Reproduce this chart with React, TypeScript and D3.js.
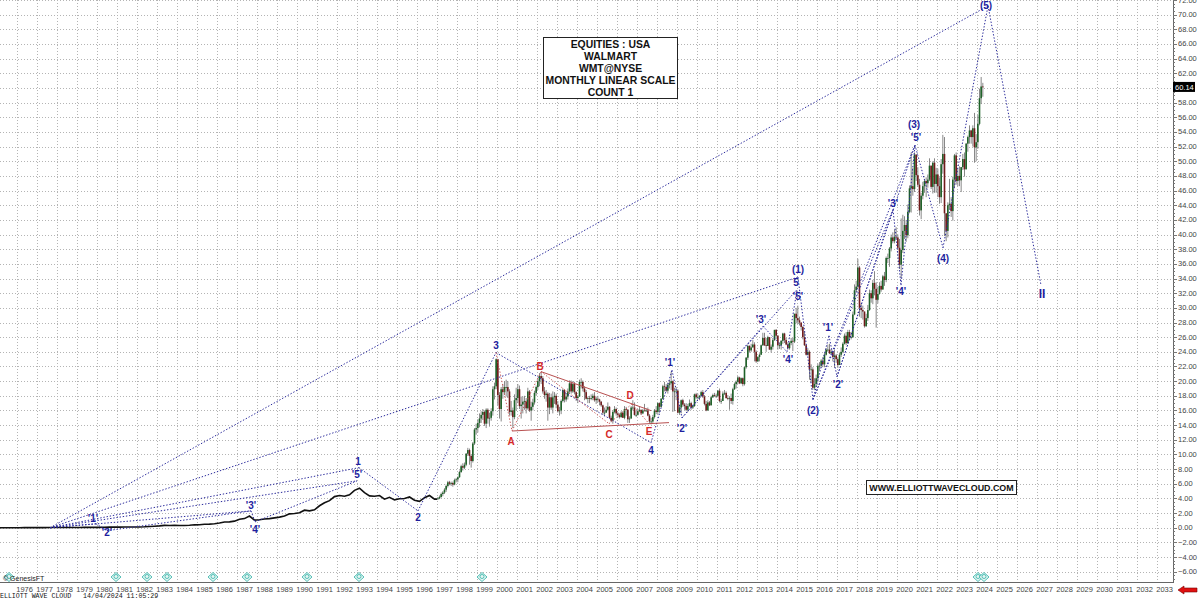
import React, { useEffect, useRef } from "react";
import * as d3 from "d3";

// monthly candles from Jan 1997 (price units after the 2024 split)
const candleStart = 1997;
const firstOpen = 3.9;
// prettier-ignore
const closes = [
  4.0, 4.2, 4.6, 4.8, 5.2, 5.7, 6.2, 6.0, 6.1, 5.9, 6.5, 6.6,
  6.9, 7.6, 8.4, 8.2, 8.6, 10.1, 10.6, 9.8, 9.1, 11.5, 13.4, 13.6,
  14.3, 14.9, 15.4, 15.8, 14.2, 16.1, 14.9, 15.0, 15.9, 18.9, 19.3, 23.0,
  18.1, 16.2, 18.9, 18.5, 19.2, 19.2, 18.6, 15.8, 16.0, 15.1, 17.4, 17.7,
  18.9, 16.6, 16.8, 17.2, 17.3, 16.3, 18.6, 16.0, 16.5, 17.1, 18.4, 19.2,
  20.0, 20.7, 20.4, 18.6, 18.1, 18.3, 16.4, 17.8, 16.4, 17.8, 18.0, 16.8,
  15.9, 16.0, 17.3, 18.8, 17.5, 17.9, 18.6, 19.7, 18.6, 19.6, 18.5, 17.7,
  17.9, 19.9, 19.9, 19.0, 18.5, 17.6, 17.7, 17.6, 17.7, 18.0, 17.4, 17.6,
  17.5, 17.2, 16.7, 15.7, 15.7, 16.1, 16.5, 15.0, 14.6, 15.8, 16.2, 15.6,
  15.4, 15.1, 15.7, 15.0, 16.2, 16.1, 14.8, 14.9, 16.4, 16.4, 15.4, 15.4,
  15.9, 16.1, 15.6, 16.0, 15.9, 16.0, 15.3, 14.5, 14.5, 15.1, 16.0, 15.8,
  17.0, 16.5, 17.6, 19.3, 19.2, 18.7, 19.5, 19.7, 20.0, 18.6, 18.6, 18.7,
  15.7, 16.4, 17.4, 16.8, 16.6, 16.1, 16.6, 17.0, 16.4, 16.6, 18.2, 17.8,
  17.8, 18.0, 18.5, 17.9, 16.9, 16.0, 17.1, 16.7, 17.8, 18.1, 18.0, 18.0,
  18.7, 17.3, 17.3, 18.3, 18.4, 17.7, 17.6, 17.7, 17.3, 18.9, 19.6, 19.9,
  20.5, 19.7, 20.4, 19.6, 21.9, 23.2, 24.8, 24.2, 24.6, 25.0, 24.0, 22.7,
  23.3, 23.6, 24.9, 25.9, 24.9, 24.8, 26.0, 24.3, 24.7, 25.6, 27.0, 26.2,
  24.9, 24.9, 25.5, 26.5, 25.6, 25.0, 24.5, 25.2, 25.5, 25.4, 29.2, 28.6,
  28.3, 28.0, 27.4, 26.0, 24.9, 23.6, 24.0, 21.6, 21.6, 19.1, 19.6, 20.4,
  22.1, 22.1, 22.8, 22.3, 23.6, 24.3, 24.3, 23.8, 24.0, 23.3, 23.5, 23.0,
  22.2, 23.6, 24.0, 25.1, 26.2, 25.2, 26.7, 26.0, 26.0, 29.1, 32.4, 32.9,
  35.5, 30.0, 29.7, 29.5, 27.5, 28.6, 29.7, 32.0, 31.3, 33.4, 32.6, 31.1,
  31.9, 33.0, 32.5, 34.3, 33.8, 36.8, 36.8, 38.1, 39.6, 39.1, 39.7, 39.6,
  38.2, 35.9, 37.9, 40.5, 41.3, 39.9, 43.1, 46.3, 46.6, 46.2, 50.9, 48.1,
  46.8, 43.3, 45.3, 46.6, 47.3, 47.0, 47.5, 49.4, 46.5, 49.8, 46.9, 48.2,
  46.6, 45.1, 49.6, 51.0, 42.9, 40.5, 44.0, 44.2, 43.2, 47.5, 50.8, 47.3,
  48.0, 47.4, 49.2, 50.3, 48.9, 52.4, 53.3, 54.2, 53.3, 54.5, 51.9, 52.6,
  55.1, 58.6, 60.2, 60.14,
];
// prettier-ignore
const highs = [
  4.2, 4.4, 4.8, 5.0, 5.4, 5.9, 6.4, 6.4, 6.3, 6.3, 6.7, 6.8,
  7.0, 7.8, 8.6, 8.8, 8.9, 10.2, 10.9, 10.8, 10.0, 11.7, 13.6, 14.2,
  14.8, 15.6, 15.9, 16.2, 16.0, 16.3, 16.3, 15.7, 16.3, 19.3, 19.8, 23.1,
  22.4, 18.5, 19.2, 19.6, 20.0, 20.2, 20.0, 18.9, 17.3, 16.4, 18.2, 19.1,
  19.6, 19.4, 17.9, 17.9, 18.0, 17.7, 19.1, 18.8, 17.2, 17.6, 18.7, 19.4,
  20.3, 21.1, 21.3, 20.7, 19.2, 18.8, 18.5, 18.4, 18.3, 18.6, 18.5, 18.3,
  17.3, 16.5, 17.5, 19.0, 18.8, 18.4, 19.0, 20.1, 20.1, 20.0, 19.9, 18.6,
  18.1, 20.2, 20.4, 20.1, 19.3, 18.8, 17.9, 18.0, 18.2, 18.3, 18.5, 17.9,
  18.0, 17.6, 17.3, 16.8, 16.4, 16.6, 17.1, 16.6, 15.3, 16.0, 16.6, 16.4,
  15.8, 15.6, 15.9, 15.9, 16.6, 16.5, 16.2, 15.2, 16.6, 17.4, 17.1, 16.0,
  16.2, 16.6, 16.1, 16.2, 16.9, 16.3, 16.4, 15.5, 15.0, 15.4, 16.2, 16.6,
  17.1, 17.1, 17.7, 19.5, 19.9, 19.6, 19.8, 20.2, 21.3, 20.1, 19.1, 19.2,
  18.9, 16.7, 17.5, 17.6, 17.0, 17.0, 16.9, 17.5, 17.2, 16.8, 18.3, 18.4,
  18.3, 18.1, 18.7, 18.8, 18.1, 17.3, 17.4, 17.3, 18.0, 18.3, 18.4, 18.3,
  18.8, 19.0, 17.6, 18.6, 18.8, 18.6, 18.1, 17.9, 18.3, 19.1, 19.8, 20.1,
  20.7, 20.6, 20.5, 20.5, 22.0, 23.3, 25.0, 24.9, 25.1, 25.6, 25.3, 24.2,
  23.4, 23.8, 25.0, 26.6, 26.6, 25.9, 26.2, 26.0, 25.0, 25.9, 27.0, 27.1,
  26.3, 25.3, 25.6, 26.6, 26.6, 25.9, 25.3, 25.4, 25.9, 25.9, 29.2, 30.0,
  30.3, 28.8, 28.0, 27.5, 26.8, 25.0, 24.5, 24.2, 22.3, 21.9, 20.4, 20.9,
  22.4, 22.6, 23.0, 23.3, 23.9, 24.5, 25.0, 25.1, 24.4, 24.1, 24.3, 23.7,
  23.2, 23.9, 24.6, 25.3, 26.5, 26.7, 27.0, 27.0, 26.7, 29.5, 33.2, 33.7,
  36.7, 35.7, 30.6, 30.3, 29.5, 29.2, 30.4, 32.5, 32.4, 33.8, 35.0, 33.5,
  32.9, 33.5, 33.7, 34.5, 34.9, 37.0, 37.4, 38.3, 40.0, 40.3, 40.7, 41.0,
  40.0, 39.4, 42.2, 42.7, 42.5, 42.0, 44.1, 46.7, 51.2, 49.1, 51.2, 51.0,
  49.2, 47.6, 45.7, 47.2, 47.6, 47.8, 48.2, 50.4, 49.3, 50.0, 50.4, 49.1,
  49.0, 47.8, 50.3, 53.6, 53.3, 42.9, 44.4, 47.6, 45.1, 47.9, 51.0, 51.2,
  49.0, 49.3, 49.2, 51.0, 51.2, 52.5, 53.5, 54.9, 54.3, 54.9, 56.6, 53.7,
  56.3, 59.9, 61.5, 60.7,
];
// prettier-ignore
const lows = [
  3.8, 3.9, 4.1, 4.3, 4.6, 4.9, 5.5, 5.8, 5.7, 5.6, 5.8, 6.2,
  6.2, 6.8, 7.5, 7.8, 8.0, 8.4, 9.8, 8.6, 8.2, 8.9, 11.3, 12.7,
  13.0, 13.7, 14.3, 14.7, 13.9, 13.6, 14.2, 13.8, 14.6, 15.3, 17.5, 18.9,
  16.7, 14.9, 14.5, 17.6, 18.1, 17.9, 17.7, 15.3, 15.3, 13.6, 14.8, 16.0,
  17.0, 16.2, 14.9, 15.6, 16.1, 15.6, 16.1, 15.8, 14.6, 16.0, 16.8, 18.0,
  18.8, 19.3, 19.6, 18.3, 17.6, 17.2, 14.6, 15.5, 16.1, 15.6, 16.9, 16.3,
  15.7, 15.3, 15.5, 17.1, 17.1, 17.2, 17.5, 18.4, 18.3, 18.4, 18.2, 17.3,
  17.0, 17.9, 19.0, 18.6, 17.4, 17.5, 17.0, 17.0, 17.4, 17.4, 17.2, 16.9,
  17.1, 16.7, 16.5, 15.4, 15.2, 15.7, 15.9, 14.9, 14.4, 14.2, 15.6, 15.3,
  15.0, 14.9, 15.0, 15.0, 14.8, 15.3, 14.3, 14.3, 14.9, 16.0, 15.3, 15.1,
  15.3, 15.8, 15.4, 15.5, 15.9, 15.8, 15.2, 14.3, 14.1, 14.3, 14.9, 15.5,
  15.5, 15.7, 16.4, 17.5, 18.6, 18.5, 18.3, 19.0, 18.8, 15.8, 15.9, 17.4,
  15.6, 15.4, 15.6, 16.5, 16.1, 15.9, 15.8, 16.5, 16.1, 16.2, 16.5, 17.6,
  17.6, 17.4, 17.9, 17.7, 16.7, 15.9, 16.0, 16.6, 16.7, 17.7, 17.9, 17.7,
  17.8, 17.1, 16.9, 17.3, 18.1, 17.6, 17.4, 16.1, 16.9, 16.8, 18.8, 19.0,
  19.6, 19.6, 19.6, 19.3, 19.4, 21.7, 22.9, 23.9, 24.0, 24.6, 22.7, 22.5,
  22.6, 22.7, 23.6, 24.8, 24.8, 24.0, 24.9, 24.3, 23.9, 24.3, 25.5, 25.7,
  24.3, 24.4, 24.3, 25.1, 25.2, 24.9, 24.3, 24.3, 24.9, 24.1, 25.2, 27.9,
  27.8, 27.6, 26.9, 25.7, 24.8, 23.5, 23.5, 20.2, 19.8, 18.8, 18.8, 19.2,
  19.9, 21.4, 21.8, 21.9, 21.9, 23.5, 24.0, 23.7, 23.7, 22.7, 21.8, 22.5,
  21.8, 22.2, 23.3, 23.8, 25.0, 24.9, 25.1, 25.6, 25.7, 25.9, 29.0, 32.1,
  32.7, 28.8, 28.6, 28.4, 27.3, 27.4, 28.2, 29.6, 30.7, 30.5, 31.7, 27.3,
  30.6, 31.8, 32.2, 32.5, 33.0, 33.5, 36.1, 35.6, 37.7, 38.8, 38.8, 39.3,
  37.9, 35.3, 34.0, 37.5, 39.4, 39.0, 39.5, 42.9, 43.0, 45.3, 45.8, 47.3,
  46.5, 42.6, 42.1, 44.8, 45.7, 45.1, 46.4, 47.3, 46.2, 45.6, 45.7, 45.7,
  45.1, 44.2, 44.3, 48.3, 39.8, 39.1, 39.6, 43.4, 42.4, 41.9, 46.3, 46.8,
  46.6, 46.6, 45.8, 48.8, 47.9, 48.9, 51.3, 52.4, 52.4, 52.0, 49.8, 50.0,
  51.7, 54.9, 57.8, 58.8,
];

// quarterly closes 1975 - 1996 (before the monthly candles)
const earlyStart = 1975;
// prettier-ignore
const earlyCloses = [
  0.01, 0.01, 0.01, 0.01, 0.01, 0.02, 0.02, 0.02, 0.02, 0.02, 0.03, 0.03,
  0.03, 0.03, 0.04, 0.04, 0.04, 0.05, 0.05, 0.05, 0.05, 0.06, 0.08, 0.08,
  0.09, 0.1, 0.1, 0.1, 0.11, 0.13, 0.17, 0.21, 0.26, 0.33, 0.3, 0.33,
  0.3, 0.31, 0.34, 0.4, 0.42, 0.47, 0.5, 0.55, 0.65, 0.78, 0.8, 0.9,
  1.15, 1.25, 1.6, 1.05, 1.1, 1.2, 1.25, 1.35, 1.45, 1.6, 1.9, 1.95,
  2.05, 2.4, 2.3, 2.45, 3.0, 3.4, 3.7, 4.25, 4.4, 4.3, 4.5, 5.1,
  5.4, 4.8, 4.35, 4.3, 4.4, 3.9, 4.15, 3.8, 3.95, 4.0, 4.2, 3.75,
  3.6, 4.1, 4.4, 3.9,
];

const lastPrice = 60.14;
const years = d3.range(1976, 2034);
const priceTicks = d3.range(-6, 73, 2);

// wave pivots: [year, price]
const pivots: Record<string, [number, number]> = {
  O: [1977.65, 0.0],
  s1: [1979.95, 0.55], s2: [1980.5, -0.4], s3: [1987.7, 2.3], s4: [1987.9, 0.8], s5: [1993.0, 6.4],
  w1: [1993.1, 8.2], w2: [1996.05, 2.3], w3: [1999.95, 23.9], w4: [2007.7, 11.6],
  A: [2000.75, 13.2], B: [2002.2, 21.3], C: [2005.6, 14.2], D: [2006.75, 16.9], E: [2007.6, 14.2],
  b1: [2008.75, 21.5], b2: [2009.25, 15.0], b3: [2013.3, 27.5], b4: [2014.5, 24.0], b5: [2015.0, 32.5],
  P1: [2015.05, 34.2], P2: [2015.8, 17.5],
  c1: [2016.6, 26.2], c2: [2017.0, 20.6], c3: [2019.8, 43.4], c4: [2020.2, 33.1], c5: [2020.9, 52.2],
  P4: [2022.3, 38.2], P5: [2024.55, 71.2], II: [2027.2, 33.1],
};

const blueLegs: [string, string][] = [
  ["O", "s1"], ["s1", "s2"], ["s2", "s3"], ["s3", "s4"], ["s4", "s5"],
  ["O", "s3"], ["O", "s5"], ["O", "w1"], ["O", "P1"], ["O", "P5"],
  ["w1", "w2"], ["w2", "w3"], ["w3", "w4"],
  ["w4", "b1"], ["b1", "b2"], ["b2", "b3"], ["b3", "b4"], ["b4", "b5"], ["b2", "b5"],
  ["P1", "P2"], ["P2", "c1"], ["c1", "c2"], ["c2", "c3"], ["c3", "c4"], ["c4", "c5"],
  ["P2", "c3"], ["P2", "c5"], ["c2", "c5"],
  ["c5", "P4"], ["P4", "P5"], ["P5", "II"],
];
const redLegs: [string, string][] = [["w3", "A"], ["A", "B"], ["B", "C"], ["C", "D"], ["D", "E"]];
const redTrends: [string, string, number][] = [["B", "D", 2007.7], ["A", "E", 2008.6]];

// [text, year, price, colour]
const waveLabels: [string, number, number, string][] = [
  ["'1'", 1979.8, 1.2, "blue"], ["'2'", 1980.5, -0.7, "blue"], ["'3'", 1987.7, 3.1, "blue"],
  ["'4'", 1987.9, -0.3, "blue"], ["'5'", 1993.0, 7.2, "blue"], ["1", 1993.05, 9.0, "blue"],
  ["2", 1996.05, 1.4, "blue"], ["3", 1999.95, 24.8, "blue"], ["4", 2007.7, 10.6, "blue"],
  ["A", 2000.7, 11.7, "red"], ["B", 2002.15, 22.0, "red"], ["C", 2005.6, 12.7, "red"],
  ["D", 2006.65, 18.0, "red"], ["E", 2007.6, 13.1, "red"],
  ["'1'", 2008.65, 22.5, "blue"], ["'2'", 2009.25, 13.6, "blue"], ["'3'", 2013.2, 28.4, "blue"],
  ["'4'", 2014.55, 22.9, "blue"], ["'5'", 2015.05, 31.5, "blue"], ["5", 2014.95, 33.4, "blue"],
  ["(1)", 2015.05, 35.2, "blue"], ["(2)", 2015.8, 16.0, "blue"],
  ["'1'", 2016.55, 27.3, "blue"], ["'2'", 2017.05, 19.5, "blue"], ["'3'", 2019.8, 44.2, "blue"],
  ["'4'", 2020.2, 32.2, "blue"], ["'5'", 2020.95, 53.2, "blue"], ["(3)", 2020.85, 55.0, "blue"],
  ["(4)", 2022.3, 36.8, "blue"], ["(5)", 2024.45, 71.3, "blue"], ["II", 2027.25, 31.9, "blue"],
];

const markerYears = [1975.6, 1980.95, 1982.5, 1983.5, 1985.8, 1987.5, 1990.5, 1993.1, 1999.25, 2024.05, 2024.35];

const titleLines = ["EQUITIES : USA", "WALMART", "WMT@NYSE", "MONTHLY LINEAR SCALE", "COUNT 1"];

const App = () => {
  const svgRef = useRef<SVGSVGElement>(null);

  useEffect(() => {
    const W = 1200;
    const H = 600;
    const right = 1173;
    const bottom = 582;
    const x = d3.scaleLinear().domain([1975.15, 2033.8]).range([0, right]);
    const y = d3.scaleLinear().domain([-7.4, 72]).range([bottom, 0]);
    const svg = d3.select(svgRef.current);
    svg.selectAll("*").remove();
    svg.append("rect").attr("width", W).attr("height", H).attr("fill", "#fff");

    // grid
    const grid = svg.append("g").attr("stroke", "#b4b4b4").attr("stroke-dasharray", "1,2").attr("stroke-width", 1);
    years.forEach((yr) => {
      const px = Math.round(x(yr)) + 0.5;
      grid.append("line").attr("x1", px).attr("x2", px).attr("y1", 0).attr("y2", bottom);
    });
    priceTicks.forEach((p) => {
      const py = Math.round(y(p)) + 0.5;
      grid.append("line").attr("x1", 0).attr("x2", right).attr("y1", py).attr("y2", py);
    });

    // axes
    svg.append("line").attr("x1", right + 0.5).attr("x2", right + 0.5).attr("y1", 0).attr("y2", bottom + 1).attr("stroke", "#666");
    svg.append("line").attr("x1", 0).attr("x2", right).attr("y1", bottom + 0.5).attr("y2", bottom + 0.5).attr("stroke", "#666");
    const yAxis = svg.append("g");
    d3.range(-7, 72.1, 0.5).forEach((p) => {
      const major = p % 2 === 0;
      yAxis.append("line")
        .attr("x1", right).attr("x2", right + (major ? 4 : 2))
        .attr("y1", Math.round(y(p)) + 0.5).attr("y2", Math.round(y(p)) + 0.5)
        .attr("stroke", "#777");
    });
    // the last-price tag hides the tick label it sits on
    yAxis.selectAll("text").data(priceTicks.filter((p) => Math.abs(p - lastPrice) > 1)).join("text")
      .attr("x", right + 5).attr("y", (d) => y(d) + 2.5)
      .attr("font-family", "Liberation Sans, Arial, sans-serif").attr("font-size", 7.5).attr("fill", "#444")
      .text((d) => d3.format(".2f")(d));
    svg.append("g").selectAll("text").data(years).join("text")
      .attr("x", (d) => x(d + 0.38)).attr("y", 592).attr("text-anchor", "middle")
      .attr("font-family", "Liberation Sans, Arial, sans-serif").attr("font-size", 7.5).attr("fill", "#444")
      .text((d) => d);

    // early price line
    const early = earlyCloses.map((c, i) => [earlyStart + i * 0.25 + 0.125, c] as [number, number]);
    early.push([candleStart, firstOpen]);
    svg.append("path")
      .attr("d", d3.line<[number, number]>().x((d) => x(d[0])).y((d) => y(d[1]))([[1975.0, 0.01], ...early]))
      .attr("fill", "none").attr("stroke", "#111").attr("stroke-width", 1.6);

    // candles
    const candles = closes.map((c, i) => {
      const o = i === 0 ? firstOpen : closes[i - 1];
      return { t: candleStart + (i + 0.5) / 12, o, c, h: Math.max(highs[i], o, c), l: Math.min(lows[i], o, c) };
    });
    const cg = svg.append("g");
    cg.selectAll("line").data(candles).join("line")
      .attr("x1", (d) => x(d.t)).attr("x2", (d) => x(d.t))
      .attr("y1", (d) => y(d.h)).attr("y2", (d) => y(d.l))
      .attr("stroke", "#888").attr("stroke-width", 1);
    cg.selectAll("rect").data(candles).join("rect")
      .attr("x", (d) => x(d.t) - 0.8).attr("width", 1.6)
      .attr("y", (d) => y(Math.max(d.o, d.c)))
      .attr("height", (d) => Math.max(0.8, Math.abs(y(d.o) - y(d.c))))
      .attr("fill", (d) => (d.c >= d.o ? "#1d6127" : "#701a1a"));

    // wave lines
    const pt = (k: string) => [x(pivots[k][0]), y(pivots[k][1])];
    const legs = svg.append("g").attr("fill", "none");
    blueLegs.forEach(([a, b]) => {
      const [x1, y1] = pt(a);
      const [x2, y2] = pt(b);
      legs.append("line").attr("x1", x1).attr("y1", y1).attr("x2", x2).attr("y2", y2)
        .attr("stroke", "#2a2a9c").attr("stroke-width", 1).attr("stroke-dasharray", "1.4,1.8");
    });
    redLegs.forEach(([a, b]) => {
      const [x1, y1] = pt(a);
      const [x2, y2] = pt(b);
      legs.append("line").attr("x1", x1).attr("y1", y1).attr("x2", x2).attr("y2", y2)
        .attr("stroke", "#cc5a5a").attr("stroke-width", 1).attr("stroke-dasharray", "1.4,1.8");
    });
    redTrends.forEach(([a, b, tEnd]) => {
      const [ta, va] = pivots[a];
      const [tb, vb] = pivots[b];
      const vEnd = va + ((vb - va) * (tEnd - ta)) / (tb - ta);
      legs.append("line").attr("x1", x(ta)).attr("y1", y(va)).attr("x2", x(tEnd)).attr("y2", y(vEnd))
        .attr("stroke", "#b85050").attr("stroke-width", 1);
    });

    // wave labels
    svg.append("g").selectAll("text").data(waveLabels).join("text")
      .attr("x", (d) => x(d[1])).attr("y", (d) => y(d[2]))
      .attr("text-anchor", "middle").attr("dominant-baseline", "central")
      .attr("font-family", "Liberation Sans, Arial, sans-serif").attr("font-weight", "bold")
      .attr("font-size", (d) => (d[0] === "II" ? 12 : 10))
      .attr("fill", (d) => (d[3] === "red" ? "#d42a2a" : "#1e1e9e"))
      .text((d) => d[0]);

    // title box
    const tb = svg.append("g");
    tb.append("rect").attr("x", 543.5).attr("y", 37.5).attr("width", 134).attr("height", 61)
      .attr("fill", "#fff").attr("stroke", "#222");
    tb.selectAll("text").data(titleLines).join("text")
      .attr("x", 610.5).attr("y", (_, i) => 48 + i * 12).attr("text-anchor", "middle")
      .attr("font-family", "Liberation Sans, Arial, sans-serif").attr("font-weight", "bold").attr("font-size", 10.4)
      .attr("fill", "#111").text((d) => d);

    // website box
    svg.append("rect").attr("x", 866.5).attr("y", 480.5).attr("width", 150).attr("height", 14)
      .attr("fill", "#fff").attr("stroke", "#222");
    svg.append("text").attr("x", 941.5).attr("y", 491).attr("text-anchor", "middle")
      .attr("font-family", "Liberation Sans, Arial, sans-serif").attr("font-weight", "bold").attr("font-size", 8.9)
      .attr("fill", "#111").text("WWW.ELLIOTTWAVECLOUD.COM");

    // last price tag
    svg.append("rect").attr("x", right).attr("y", y(lastPrice) - 5).attr("width", 22).attr("height", 10).attr("fill", "#000");
    svg.append("text").attr("x", right + 2).attr("y", y(lastPrice) + 2.7)
      .attr("font-family", "Liberation Sans, Arial, sans-serif").attr("font-size", 7.5).attr("fill", "#fff")
      .text(d3.format(".2f")(lastPrice));

    // event markers
    const mk = svg.append("g");
    markerYears.forEach((t) => {
      const cx = x(t);
      const cy = 577;
      mk.append("path").attr("d", `M${cx - 5},${cy} L${cx},${cy - 4.5} L${cx + 5},${cy} L${cx},${cy + 4.5} Z`)
        .attr("fill", "#e6f6f4").attr("stroke", "#54c0b6").attr("stroke-width", 1);
      mk.append("circle").attr("cx", cx).attr("cy", cy - 0.5).attr("r", 2).attr("fill", "none").attr("stroke", "#54c0b6");
    });

    svg.append("text").attr("x", 3).attr("y", 581)
      .attr("font-family", "Liberation Sans, Arial, sans-serif").attr("font-size", 7).attr("fill", "#222")
      .text("\u00a9 GenesisFT");
    svg.append("text").attr("x", 0).attr("y", 598)
      .attr("font-family", "Liberation Mono, DejaVu Sans Mono, monospace").attr("font-size", 6.6).attr("fill", "#111")
      .attr("xml:space", "preserve").text("ELLIOTT WAVE CLOUD   14/04/2024 11:05:29");

    // red arrow bottom right
    svg.append("path").attr("d", "M1178,590 L1184,586 L1184,588 L1197,588 L1197,592 L1184,592 L1184,594 Z")
      .attr("fill", "#e01010").attr("stroke", "#700").attr("stroke-width", 0.6);
  }, []);

  return (
    <svg
      ref={svgRef}
      width={1200}
      height={600}
      style={{ position: "fixed", left: 0, top: 0, display: "block" }}
    />
  );
};

export default App;
